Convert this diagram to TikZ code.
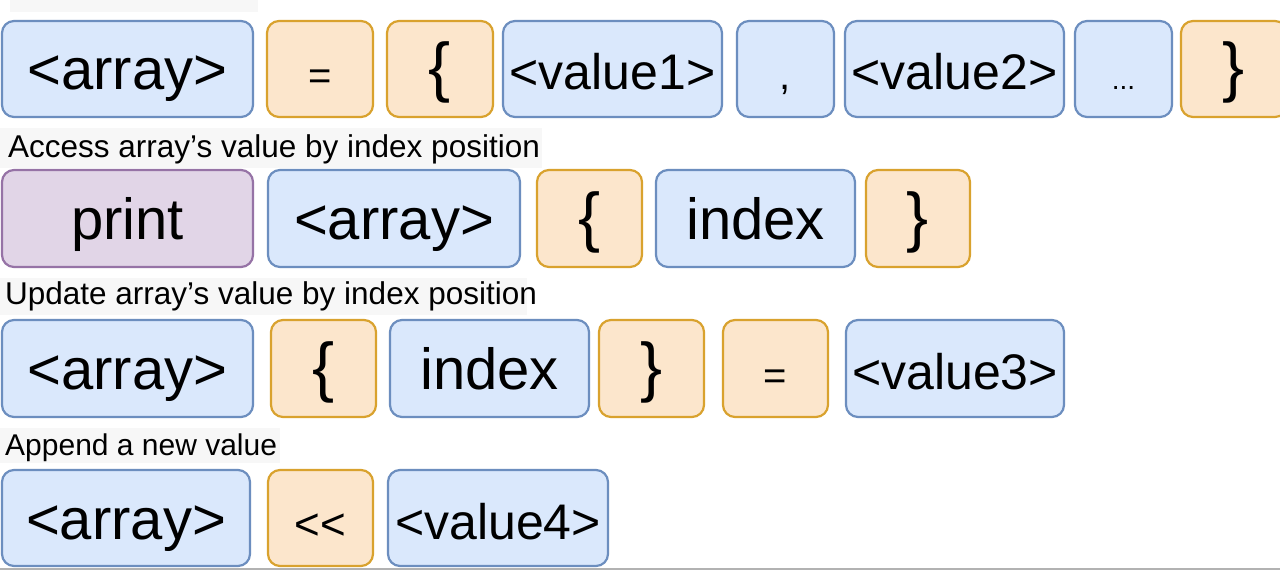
\documentclass[tikz,border=0pt]{standalone}
\usepackage{fontspec}
\setmainfont{Liberation Sans}[Ligatures=NoCommon]
\definecolor{bfill}{HTML}{DAE8FC}
\definecolor{bdraw}{HTML}{6C8EBF}
\definecolor{ofill}{HTML}{FCE6CC}
\definecolor{odraw}{HTML}{D9A22E}
\definecolor{pfill}{HTML}{E1D5E7}
\definecolor{pdraw}{HTML}{9673A6}
\definecolor{lblbg}{HTML}{F7F7F7}
\tikzset{
  tok/.style={rounded corners=12pt, line width=2.2pt, inner sep=0pt,
    minimum height=96pt, text height=42pt, text depth=0pt,
    font=\fontsize{58}{62}\selectfont},
  bluebox/.style={tok, draw=bdraw, fill=bfill},
  orangebox/.style={tok, draw=odraw, fill=ofill},
  purplebox/.style={tok, draw=pdraw, fill=pfill},
  lbl/.style={anchor=base west, inner sep=0pt, font=\fontsize{31.5}{33}\selectfont},
  lblback/.style={fill=lblbg, draw=none},
  small/.style={font=\fontsize{40}{44}\selectfont},
  brace/.style={font=\fontsize{66}{70}\selectfont},
  vals/.style={font=\fontsize{50}{54}\selectfont},
}
\begin{document}
\begin{tikzpicture}[x=1pt,y=-1pt]
\useasboundingbox (0,0) rectangle (1280,572);
\fill[white] (0,0) rectangle (1280,572);
% label backgrounds
\fill[lblback] (10,0) rectangle (258,12);
\fill[lblback] (0,128) rectangle (542,168);
\fill[lblback] (0,278) rectangle (527,315);
\fill[lblback] (0,428) rectangle (280,463);
% row 1
\node[bluebox, minimum width=251pt] (a1) at (127.5,69) {<array>};
\node[orangebox, small, minimum width=106pt] (eq1) at (320,69) {=};
\node[orangebox, brace, minimum width=106pt] (lb1) at (440,69) {\{};
\node[bluebox, vals, minimum width=219pt] (v1) at (612.5,69) {<value1>};
\node[bluebox, small, minimum width=97pt] (cm) at (785.5,69) {,};
\node[bluebox, vals, minimum width=219pt] (v2) at (954.5,69) {<value2>};
\node[bluebox, font=\fontsize{28}{30}\selectfont, minimum width=97pt] (dots) at (1123.5,69) {...};
\node[orangebox, brace, minimum width=106pt] (rb1) at (1234,69) {\}};
% label 2
\node[lbl] (l2) at (8,158) {Access array's value by index position};
% row 2
\node[purplebox, minimum width=251pt, minimum height=97pt] (pr) at (127.5,218.5) {print};
\node[bluebox, minimum width=252pt, minimum height=97pt] (a2) at (394,218.5) {<array>};
\node[orangebox, brace, minimum width=105pt, minimum height=97pt] (lb2) at (589.5,218.5) {\{};
\node[bluebox, minimum width=199pt, minimum height=97pt] (ix2) at (755.5,218.5) {index};
\node[orangebox, brace, minimum width=104pt, minimum height=97pt] (rb2) at (918,218.5) {\}};
% label 3
\node[lbl] (l3) at (5,305) {Update array's value by index position};
% row 3
\node[bluebox, minimum width=251pt, minimum height=97pt] (a3) at (127.5,368.5) {<array>};
\node[orangebox, brace, minimum width=105pt, minimum height=97pt] (lb3) at (323.5,368.5) {\{};
\node[bluebox, minimum width=199pt, minimum height=97pt] (ix3) at (489.5,368.5) {index};
\node[orangebox, brace, minimum width=105pt, minimum height=97pt] (rb3) at (651.5,368.5) {\}};
\node[orangebox, small, minimum width=105pt, minimum height=97pt] (eq3) at (775.5,368.5) {=};
\node[bluebox, vals, minimum width=218pt, minimum height=97pt] (v3) at (955,368.5) {<value3>};
% label 4
\node[lbl, font=\fontsize{30}{32}\selectfont] (l4) at (5,455) {Append a new value};
% row 4
\node[bluebox, minimum width=248pt, minimum height=96pt] (a4) at (126,518) {<array>};
\node[orangebox, font=\fontsize{44}{48}\selectfont, minimum width=105pt, minimum height=96pt] (sh) at (320.5,518) {\mbox{<}\mbox{<}};
\node[bluebox, vals, minimum width=220pt, minimum height=96pt] (v4) at (498,518) {<value4>};
% bottom edge line
\coordinate (bl) at (0,569);
\coordinate (br) at (1280,569);
\draw[gray!60, line width=2pt] (bl) -- (br);
\end{tikzpicture}
\end{document}
